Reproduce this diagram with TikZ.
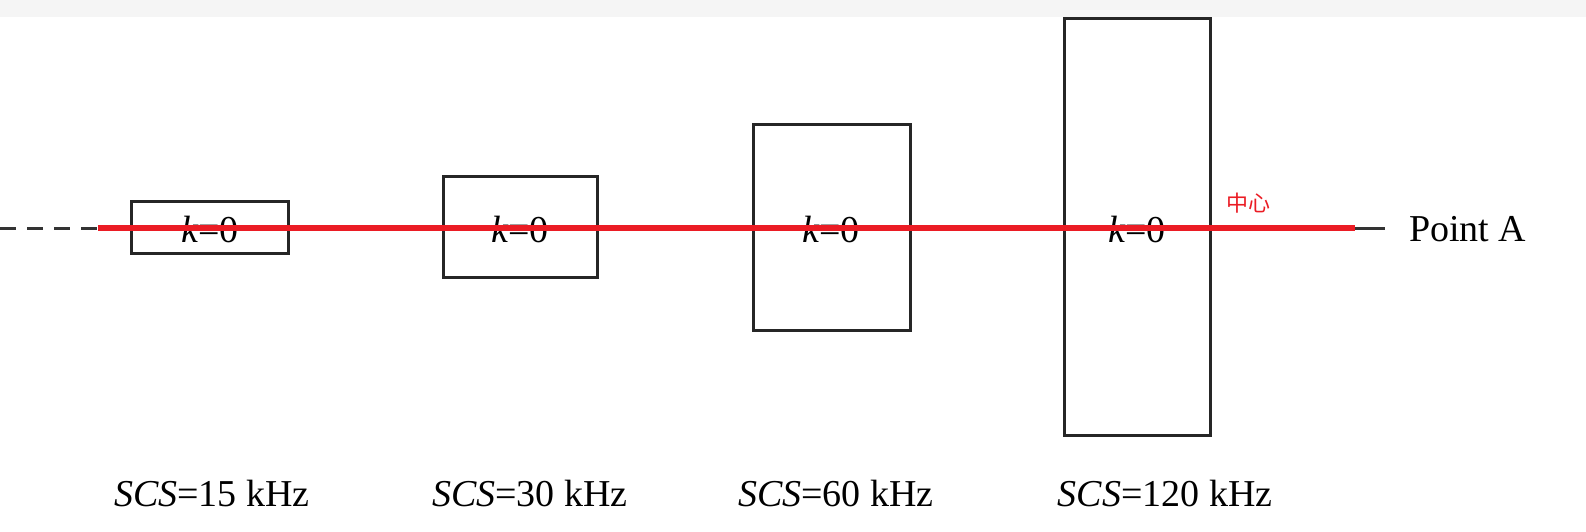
\documentclass[tikz,border=0pt]{standalone}
\usepackage{fontspec}
\setmainfont{Liberation Serif}
\newfontfamily\cjk{Noto Sans CJK SC}
\begin{document}
\begin{tikzpicture}[x=1pt,y=-1pt,
  blk/.style={draw=black!85,line width=3pt},
  lbl/.style={font=\fontsize{38}{40}\selectfont,inner sep=0pt}]
\fill[white] (0,0) rectangle (1586,531);
\fill[black!4] (0,0) rectangle (1586,17);
\useasboundingbox (0,0) rectangle (1586,531);
\draw[blk] (131,201) rectangle (288,253);
\draw[blk] (443,176) rectangle (597,277);
\draw[blk] (753,124) rectangle (910,330);
\draw[blk] (1064,18) rectangle (1210,435);
\foreach \cx/\nm in {210/a,520/b,831/c,1137/d}
  \node[lbl] (k\nm) at (\cx,229) {\textit{k}=0};
\coordinate (l0) at (0,228);
\coordinate (l1) at (98,228);
\coordinate (l2) at (1355,228);
\coordinate (l3) at (1385,228);
\draw[black!80,line width=3pt,dash pattern=on 16pt off 11pt] (l0) -- (l1);
\draw[black!80,line width=3pt] (l2) -- (l3);
\draw[red!85!black,line width=6pt,color={rgb,255:red,235;green,28;blue,36}] (l1) -- (l2);
\node[lbl,anchor=west] (pa) at (1409,229) {Point A};
\node[inner sep=0pt,text={rgb,255:red,235;green,28;blue,36},font=\cjk\fontsize{22}{24}\selectfont] (zx) at (1248,203) {中心};
\foreach \cx/\v/\nm in {212/15/a,530/30/b,836/60/c,1165/120/d}
  \node[lbl] (s\nm) at (\cx,493) {\textit{SCS}=\v\ kHz};
\end{tikzpicture}
\end{document}
